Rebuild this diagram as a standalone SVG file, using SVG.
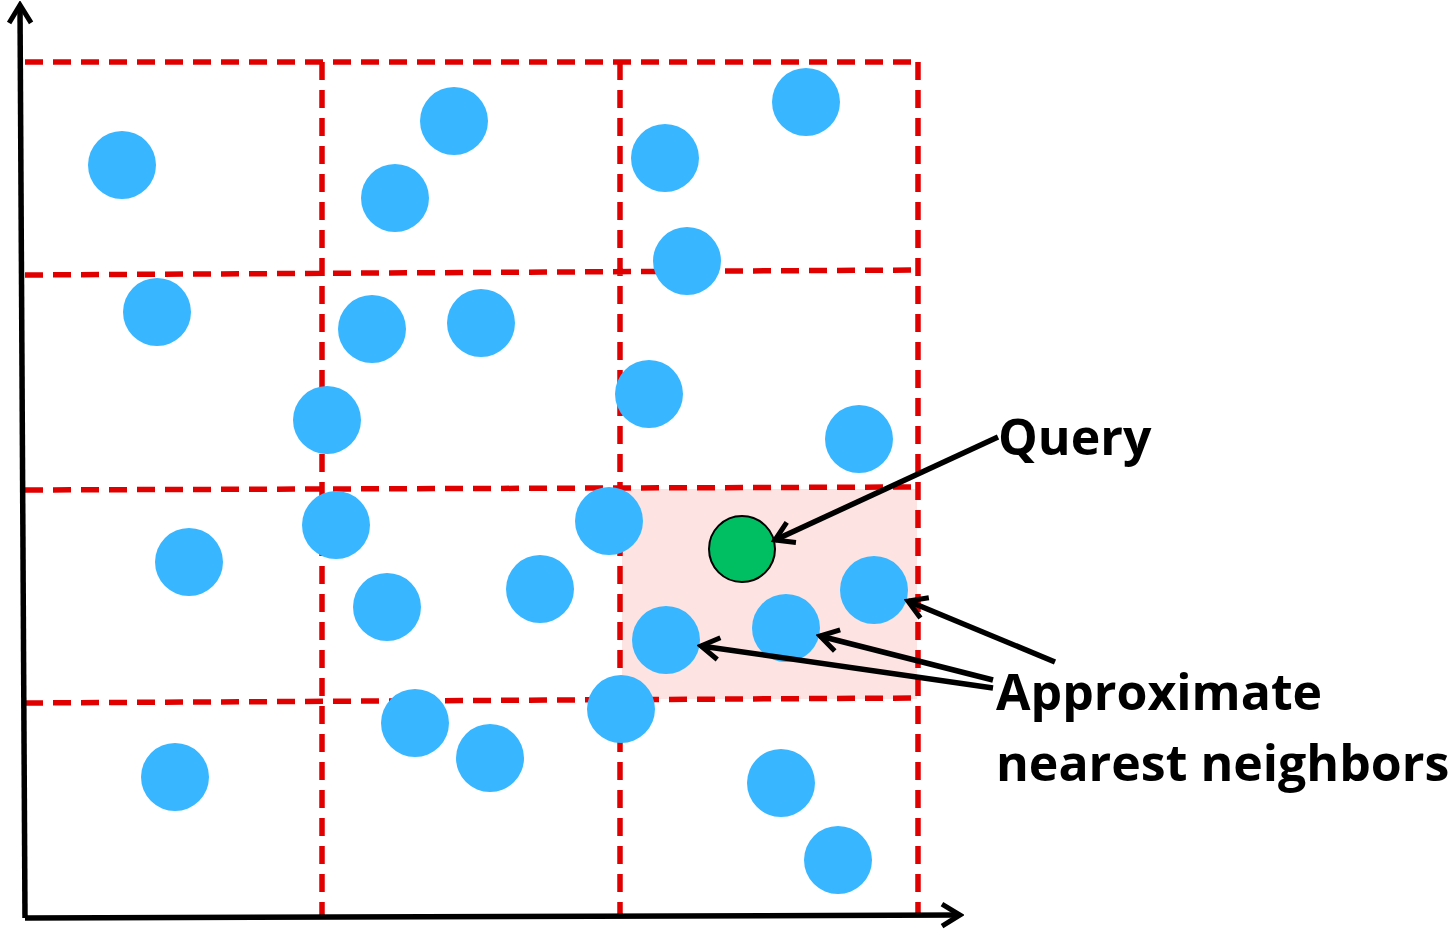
<svg xmlns="http://www.w3.org/2000/svg" width="1456" height="935" viewBox="0 0 1456 935">
<style>
.grid{stroke:#e00000;stroke-width:5.5;stroke-dasharray:18 10;fill:none}
.pt{fill:#38b6ff}
.ar{stroke:#000;stroke-width:5.5;fill:none}
.lbl{font-family:"Open Sans","Liberation Sans",sans-serif;font-weight:bold;font-size:50px;fill:#000}
</style>
<defs>
<marker id="ah2" markerWidth="28" markerHeight="28" refX="24" refY="14" orient="auto" markerUnits="userSpaceOnUse">
<path d="M6,3 L24,14 L6,25" stroke="#000" stroke-width="5" fill="none"/>
</marker>
</defs>
<rect width="1456" height="935" fill="#fff"/>
<g id="cell"><rect x="622" y="489" width="295" height="210" fill="#fde3e1"/></g>
<g id="grid">
<path class="grid" d="M25,62 L918,62 M25,275 L918,270 M25,490 L918,487 M25,703 L918,698 M322,62 L322,915 M620,62 L620,915 M918,62 L918,915"/>
</g>
<g id="axes">
<path class="ar" d="M25,918 L20,5" marker-end="url(#ah2)"/>
<path class="ar" d="M25,918 L960,915" marker-end="url(#ah2)"/>
</g>
<g id="points">
<circle class="pt" cx="122" cy="165" r="34"/><circle class="pt" cx="454" cy="121" r="34"/>
<circle class="pt" cx="395" cy="198" r="34"/><circle class="pt" cx="665" cy="158" r="34"/>
<circle class="pt" cx="806" cy="102" r="34"/><circle class="pt" cx="687" cy="261" r="34"/>
<circle class="pt" cx="157" cy="312" r="34"/><circle class="pt" cx="372" cy="329" r="34"/>
<circle class="pt" cx="481" cy="323" r="34"/><circle class="pt" cx="327" cy="420" r="34"/>
<circle class="pt" cx="649" cy="394" r="34"/><circle class="pt" cx="859" cy="439" r="34"/>
<circle class="pt" cx="189" cy="562" r="34"/><circle class="pt" cx="336" cy="525" r="34"/>
<circle class="pt" cx="609" cy="521" r="34"/><circle class="pt" cx="387" cy="607" r="34"/>
<circle class="pt" cx="540" cy="589" r="34"/><circle class="pt" cx="874" cy="590" r="34"/>
<circle class="pt" cx="666" cy="640" r="34"/><circle class="pt" cx="786" cy="628" r="34"/>
<circle class="pt" cx="415" cy="723" r="34"/><circle class="pt" cx="490" cy="758" r="34"/>
<circle class="pt" cx="621" cy="709" r="34"/><circle class="pt" cx="175" cy="777" r="34"/>
<circle class="pt" cx="781" cy="783" r="34"/><circle class="pt" cx="838" cy="860" r="34"/>
</g>
<g id="query"><circle cx="742" cy="549" r="33" fill="#00bf63" stroke="#000" stroke-width="2"/></g>
<g id="connectors">
<path class="ar" d="M998,437 L775,540" marker-end="url(#ah2)"/>
<path class="ar" d="M1055,662 L908,601" marker-end="url(#ah2)"/>
<path class="ar" d="M993,680 L820,636" marker-end="url(#ah2)"/>
<path class="ar" d="M993,688 L701,646" marker-end="url(#ah2)"/>
</g>
<g id="labels">
<text class="lbl" x="998" y="455">Query</text>
<text class="lbl" x="996" y="710">Approximate</text>
<text class="lbl" x="996" y="781">nearest neighbors</text>
</g>
</svg>
